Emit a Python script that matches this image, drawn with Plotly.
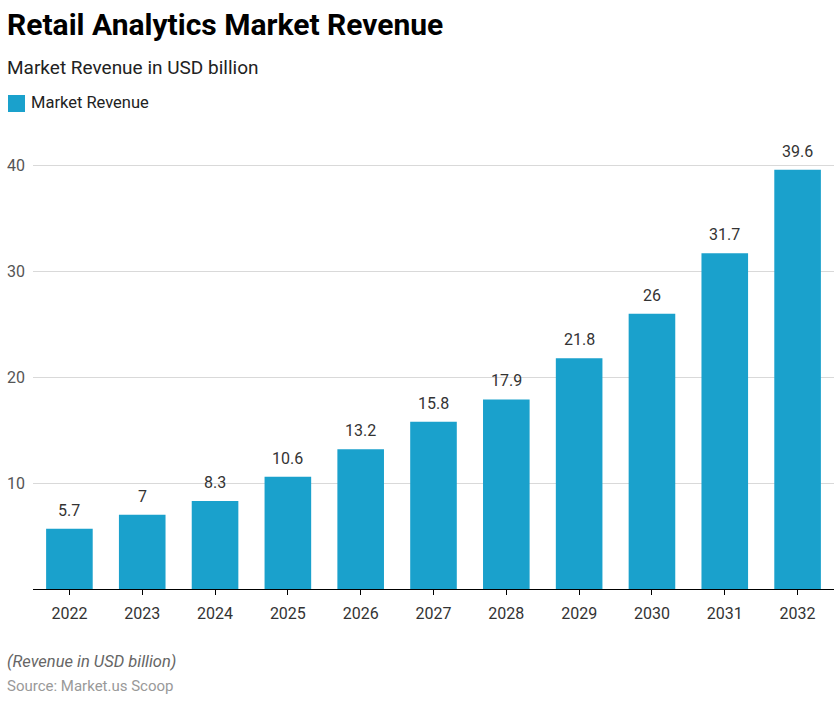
import plotly.graph_objects as go

years = ["2022", "2023", "2024", "2025", "2026", "2027", "2028", "2029", "2030", "2031", "2032"]
revenue = [5.7, 7, 8.3, 10.6, 13.2, 15.8, 17.9, 21.8, 26, 31.7, 39.6]
labels = ["5.7", "7", "8.3", "10.6", "13.2", "15.8", "17.9", "21.8", "26", "31.7", "39.6"]
series_name = "Market Revenue"

W, H = 840, 701
ML, MR, MT, MB = 33, 6, 140, 112
PW, PH = W - ML - MR, H - MT - MB
BAR_COLOR = "#1aa1cc"
FONT = "Roboto"

def py(p):
    return (H - MB - p) / PH

def px(p):
    return (p - ML) / PW

fig = go.Figure()
fig.add_trace(go.Bar(
    x=years, y=revenue, name=series_name,
    marker=dict(color=BAR_COLOR, line=dict(width=0)),
    showlegend=False,
))

annotations = []
for i, (v, lab) in enumerate(zip(revenue, labels)):
    annotations.append(dict(x=i, y=v, xref="x", yref="y", text=lab, showarrow=False,
                            yanchor="bottom", yshift=7,
                            font=dict(family=FONT, size=16, color="#333333")))

annotations += [
    dict(text="Market Revenue in USD billion", xref="paper", yref="paper",
         x=px(5), y=py(67), xanchor="left", yanchor="middle",
         showarrow=False, font=dict(family=FONT, size=19, color="#222222")),
    dict(text=series_name, xref="paper", yref="paper",
         x=px(29), y=py(103), xanchor="left", yanchor="middle",
         showarrow=False, font=dict(family=FONT, size=16.5, color="#222222")),
    dict(text="<i>(Revenue in USD billion)</i>", xref="paper", yref="paper",
         x=px(5), y=py(661), xanchor="left", yanchor="middle",
         showarrow=False, font=dict(family=FONT, size=16.5, color="#666666")),
    dict(text="Source: Market.us Scoop", xref="paper", yref="paper",
         x=px(5), y=py(686), xanchor="left", yanchor="middle",
         showarrow=False, font=dict(family=FONT, size=15, color="#999999")),
]

shapes = [dict(type="rect", xref="paper", yref="paper",
               x0=px(8), x1=px(25), y0=py(112), y1=py(95),
               fillcolor=BAR_COLOR, line=dict(width=0))]

fig.update_layout(
    width=W, height=H,
    margin=dict(l=ML, r=MR, t=MT, b=MB),
    paper_bgcolor="white", plot_bgcolor="white",
    font=dict(family=FONT, color="#333333"),
    bargap=0.36,
    showlegend=False,
    title=dict(text="<b>Retail Analytics Market Revenue</b>", xref="container", yref="container",
               x=7 / W, xanchor="left", y=1 - 24 / H, yanchor="middle",
               font=dict(family=FONT, size=30, color="#000000")),
    xaxis=dict(type="category", range=[-0.5, len(years) - 0.5], showgrid=False, showline=True,
               linecolor="#000000", linewidth=1,
               ticks="outside", ticklen=5, tickcolor="#000000", ticklabelstandoff=5,
               tickfont=dict(family=FONT, size=16, color="#333333"), fixedrange=True),
    yaxis=dict(range=[0, 42.4], tickvals=[10, 20, 30, 40], showgrid=True, gridcolor="#d9d9d9",
               gridwidth=1, zeroline=False, showline=False, ticks="", ticklabelstandoff=7,
               tickfont=dict(family=FONT, size=16, color="#555555"), fixedrange=True),
    annotations=annotations,
    shapes=shapes,
)

fig.write_html("out.html", config={"displayModeBar": False})
